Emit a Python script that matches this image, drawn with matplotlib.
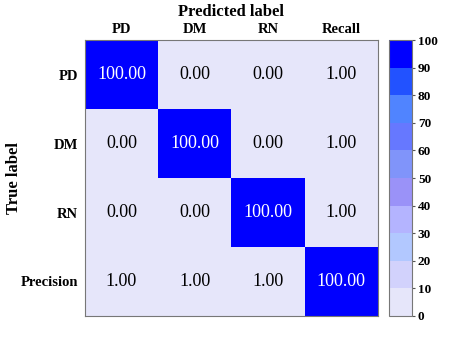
import numpy as np
import matplotlib.pyplot as plt
from matplotlib.colors import ListedColormap, BoundaryNorm

plt.rcParams['font.family'] = ['Liberation Serif', 'DejaVu Serif']

labels_x = ["PD", "DM", "RN", "Recall"]
labels_y = ["PD", "DM", "RN", "Precision"]
values = np.array([
    [100.0, 0.0, 0.0, 1.0],
    [0.0, 100.0, 0.0, 1.0],
    [0.0, 0.0, 100.0, 1.0],
    [1.0, 1.0, 1.0, 100.0],
])
level_colors = ["#e6e6fa", "#d2d2fc", "#b2c8ff", "#b4b4ff", "#9a92f8",
                "#8094fa", "#6678ff", "#5084ff", "#2252ff", "#0000ff"]
bounds = np.arange(0, 101, 10)

cmap = ListedColormap(level_colors)
norm = BoundaryNorm(bounds, cmap.N)

fig = plt.figure(figsize=(4.74, 3.55), dpi=100)
ax = fig.add_axes([0.179, 0.110, 0.618, 0.777])
cax = fig.add_axes([0.821, 0.110, 0.049, 0.777])

im = ax.imshow(values, cmap=cmap, norm=norm, aspect="auto")

for i in range(values.shape[0]):
    for j in range(values.shape[1]):
        v = values[i, j]
        ax.text(j, i, f"{v:.2f}", ha="center", va="center", fontsize=13,
                color="white" if v > 50 else "black")

ax.set_xticks(range(len(labels_x)))
ax.set_xticklabels(labels_x, fontsize=10.5, fontweight="bold")
ax.set_yticks(range(len(labels_y)))
ax.set_yticklabels(labels_y, fontsize=10.5, fontweight="bold")
ax.xaxis.tick_top()
ax.xaxis.set_label_position("top")
ax.tick_params(axis="x", length=0, pad=3)
ax.tick_params(axis="y", length=0, pad=5)
ax.set_xlabel("Predicted label", fontsize=12, fontweight="bold", labelpad=5)
ax.set_ylabel("True label", fontsize=12, fontweight="bold")
ax.yaxis.set_label_coords(-0.215, 0.5)
for s in ax.spines.values():
    s.set_color("#777777")

cb = fig.colorbar(im, cax=cax, ticks=bounds)
cb.ax.tick_params(length=2, pad=2, labelsize=9.5, color="#555555")
for t in cb.ax.get_yticklabels():
    t.set_fontweight("bold")
cb.outline.set_edgecolor("#777777")

fig.savefig("out.png", dpi=100)
